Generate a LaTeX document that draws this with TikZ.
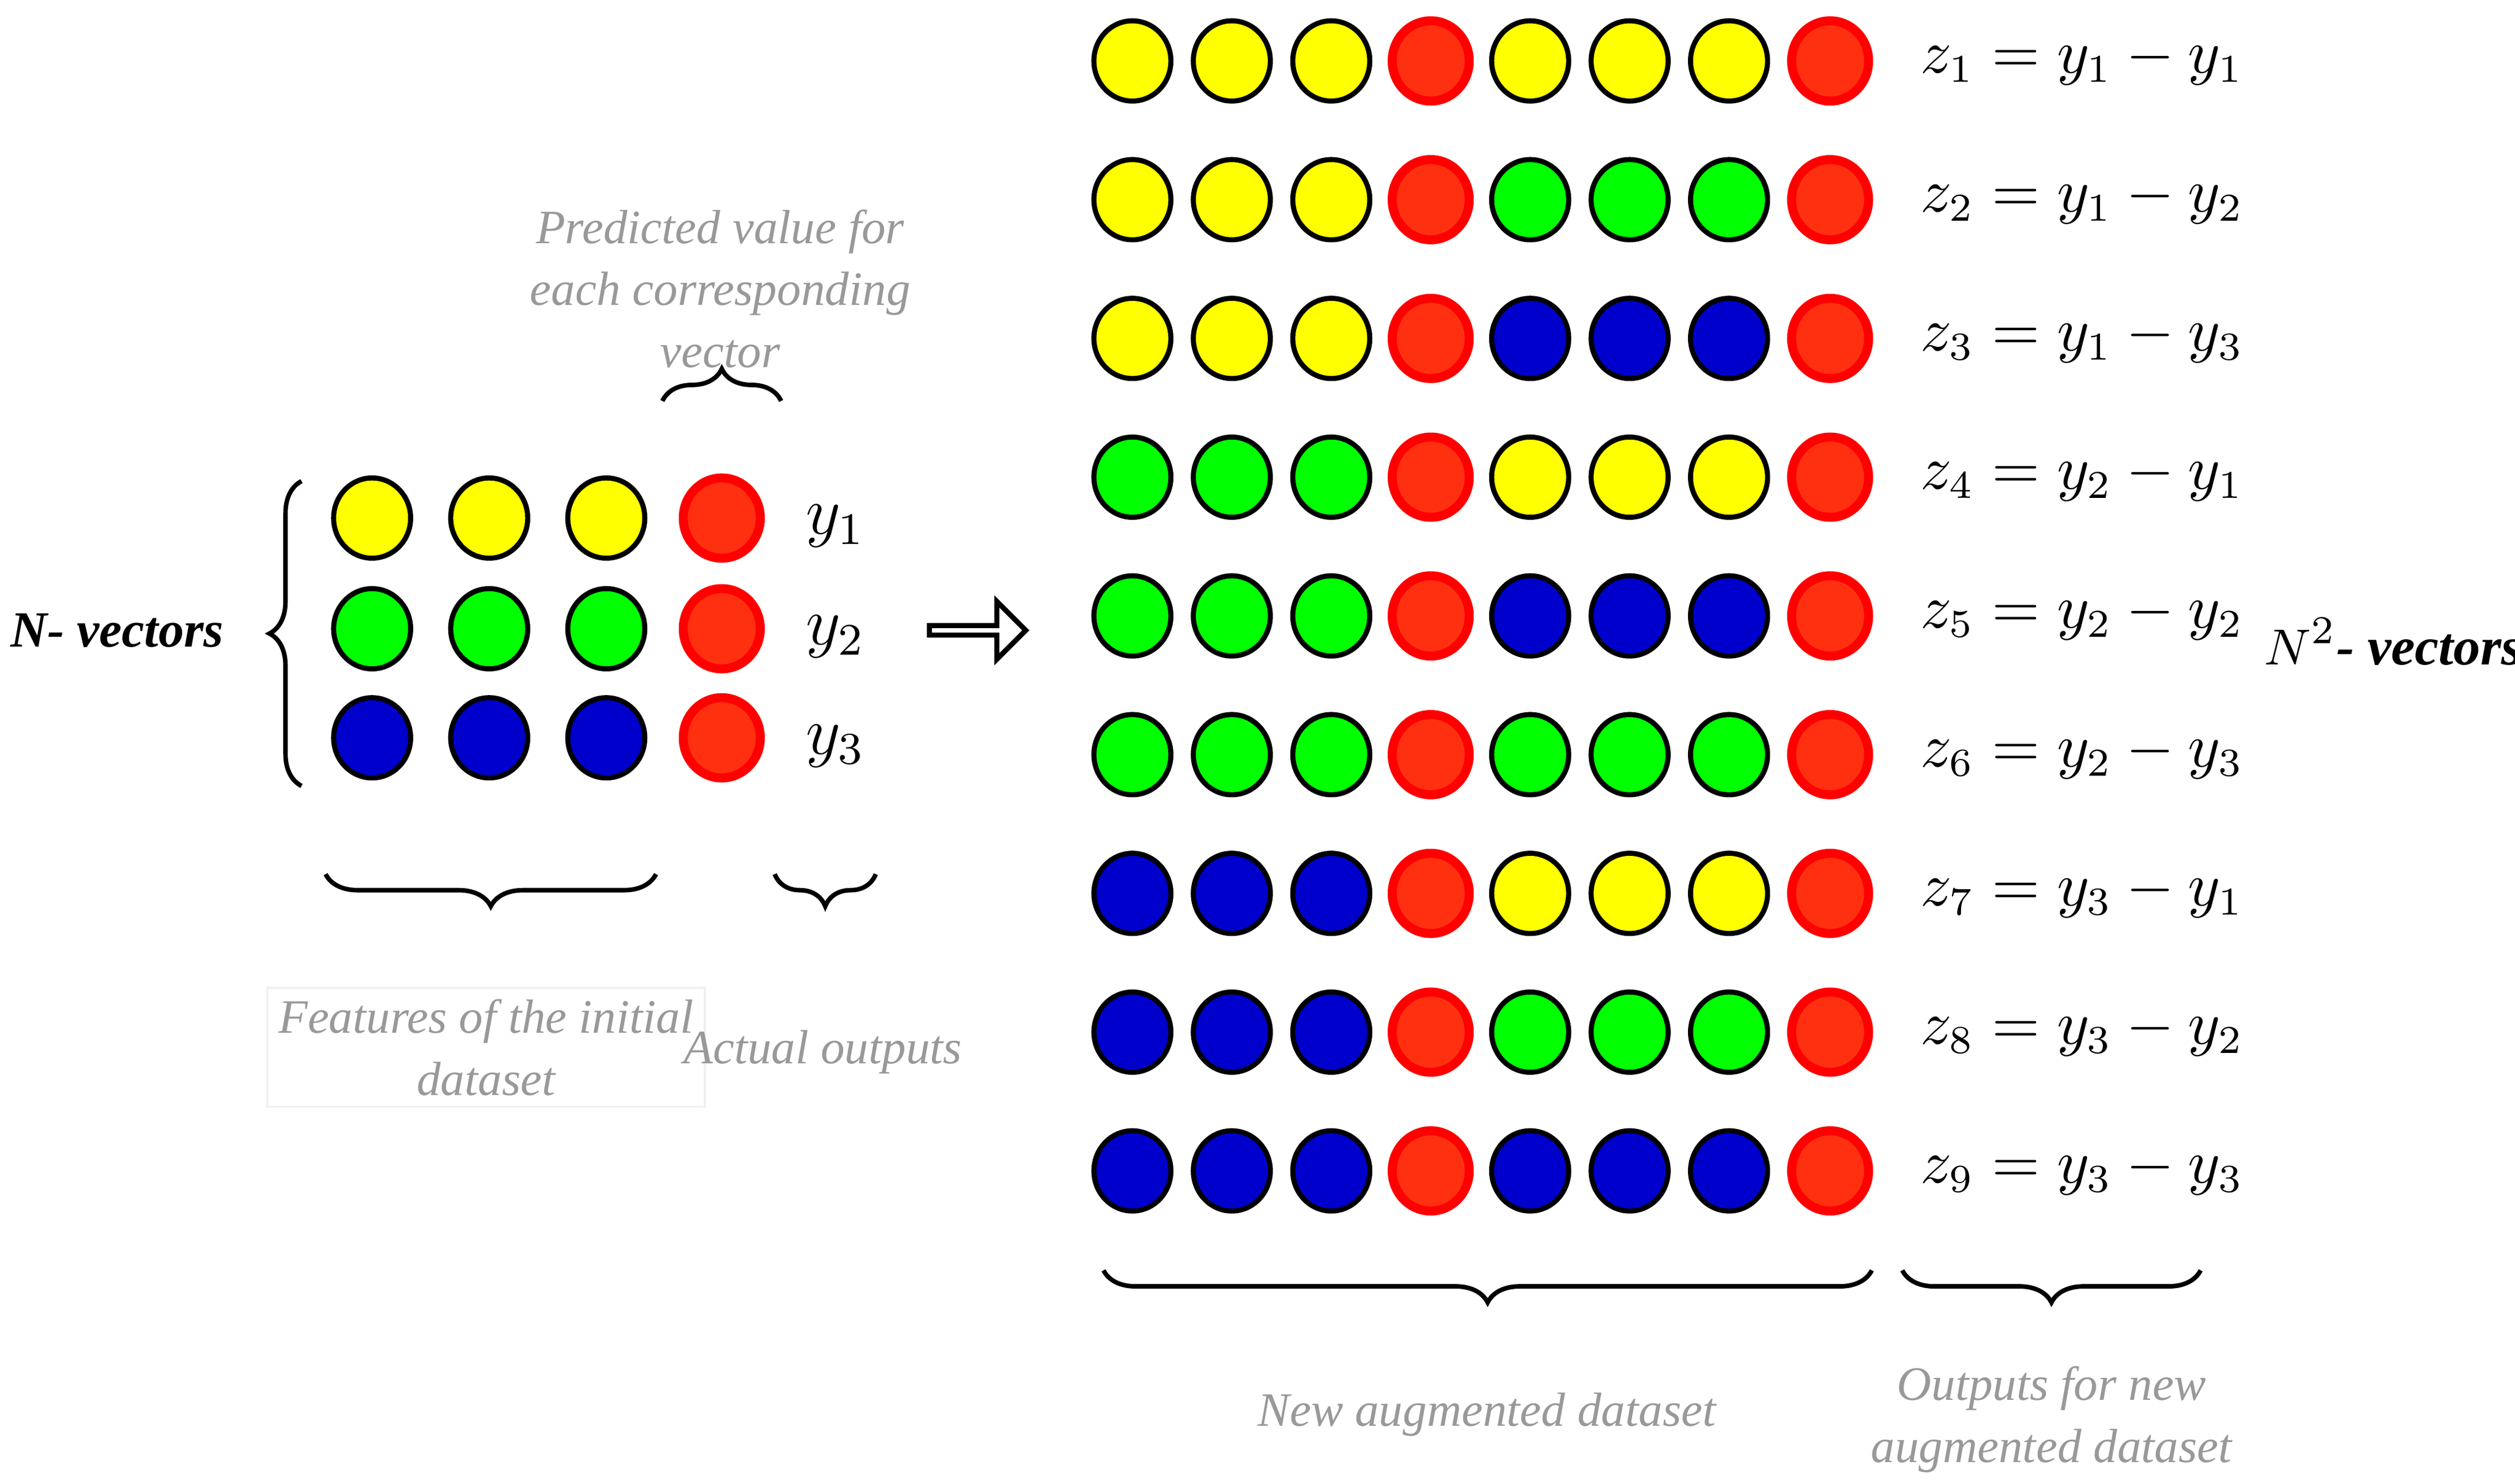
\documentclass[tikz,border=0pt]{standalone}
\usepackage{fontspec}
\setmainfont{Liberation Serif}
\usetikzlibrary{decorations.pathreplacing,shapes.arrows,shapes.geometric}
\definecolor{cy}{HTML}{FFFF00}
\definecolor{cg}{HTML}{00FF00}
\definecolor{cb}{HTML}{0000CC}
\definecolor{cr}{HTML}{FF3010}
\definecolor{cre}{HTML}{FF0000}
\definecolor{gt}{HTML}{999999}
\begin{document}
\begin{tikzpicture}[x=0.01cm,y=-0.01cm,
  dot/.style={ellipse,minimum width=0.48cm,minimum height=0.5cm,inner sep=0,draw=black,line width=0.9pt},
  Y/.style={dot,fill=cy},G/.style={dot,fill=cg},B/.style={dot,fill=cb},
  R/.style={dot,fill=cr,draw=cre,line width=1.6pt},
  br/.style={decorate,decoration={brace,amplitude=0.2cm},line width=0.8pt},
  gtxt/.style={text=gt,font=\fontsize{8.5}{11}\selectfont\itshape,align=center},
  mth/.style={font=\fontsize{10.5}{12}\selectfont,anchor=west}]
\useasboundingbox (0,0) rectangle (1568,925);
% left grid
\foreach \c/\y [count=\r] in {Y/323,G/392,B/460}{
  \foreach \x [count=\k] in {232,305,378}{\node[\c] (l\r\k) at (\x,\y) {};}
  \node[R] (l\r4) at (450,\y) {};
  \node[mth,font=\fontsize{11.5}{13}\selectfont] (ly\r) at (490,\y+5) {$y_{\r}$};
}
\node[font=\fontsize{9}{11}\selectfont\bfseries\itshape] (nv) at (73,393) {N- vectors};
\draw[br] (188,490) -- (188,300);
\draw[br] (413,250) -- (487,250);
\node[gtxt] (pred) at (449,180) {Predicted value for\\each corresponding\\vector};
\draw[br] (409,545) -- (203,545);
\draw[br] (546,545) -- (483,545);
\node[gtxt,draw=black!6,inner sep=2pt] (feat) at (303,653) {Features of the initial\\dataset};
\node[gtxt] (act) at (513,656) {Actual outputs};
\node[single arrow,draw=black,line width=0.9pt,fill=white,minimum width=0.36cm,single arrow head extend=0.08cm,minimum height=0.6cm,inner sep=0] (arr) at (608,393) {};
% right grid
\foreach \a/\b/\i/\j [count=\r] in {Y/Y/1/1,Y/G/1/2,Y/B/1/3,G/Y/2/1,G/B/2/2,G/G/2/3,B/Y/3/1,B/G/3/2,B/B/3/3}{
  \pgfmathsetmacro\yy{38+(\r-1)*86.5}
  \foreach \x [count=\k] in {706,768,830}{\node[\a] (r\r\k) at (\x,\yy) {};}
  \node[R] (r\r4) at (892,\yy) {};
  \foreach \x [count=\k from 5] in {954,1016,1078}{\node[\b] (r\r\k) at (\x,\yy) {};}
  \node[R] (r\r8) at (1141,\yy) {};
  \node[mth] (z\r) at (1185,\yy) {$z_{\r}=y_{\i}-y_{\j}$};
}
\node[font=\fontsize{9.5}{11}\selectfont\bfseries\itshape] (n2) at (1492,400) {$N^2$- vectors};
\draw[br] (1167,792) -- (688,792);
\draw[br] (1372,792) -- (1186,792);
\node[gtxt] (nad) at (927,882) {New augmented dataset};
\node[gtxt] (oad) at (1279,885) {Outputs for new\\augmented dataset};
\end{tikzpicture}
\end{document}
